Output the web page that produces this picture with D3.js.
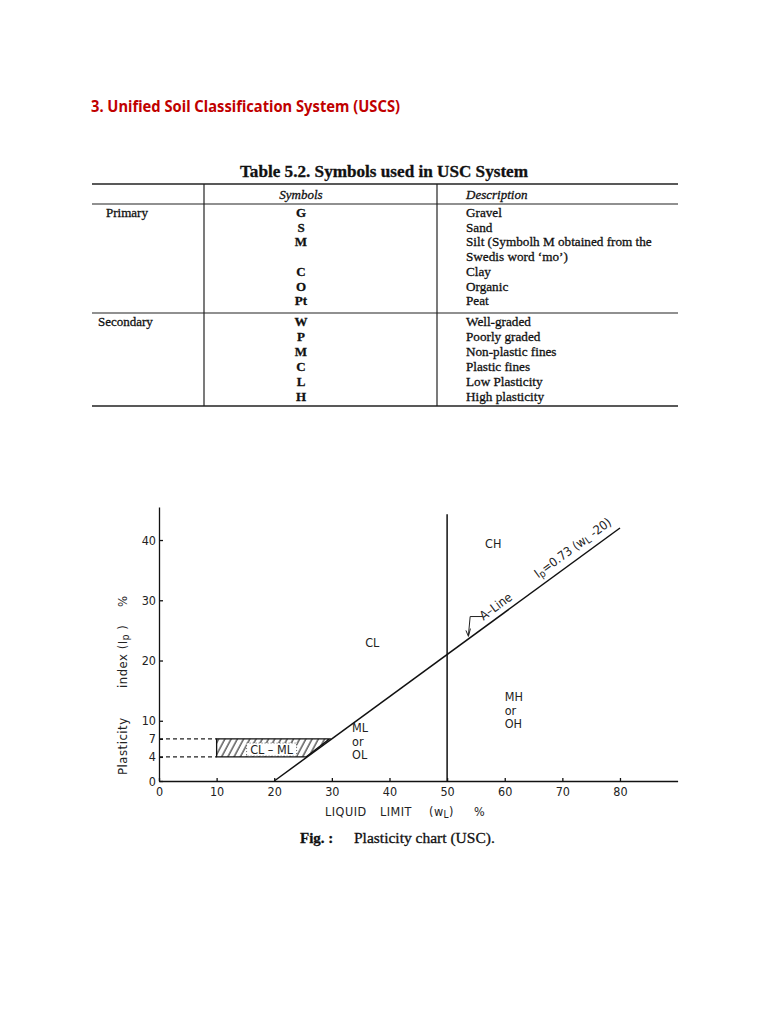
<!DOCTYPE html>
<html>
<head>
<meta charset="utf-8">
<script src="https://cdn.jsdelivr.net/npm/d3@7"></script>
<style>
  body { margin: 0; background: #fff; }
  svg { display: block; }
  .serif { font-family: "Liberation Serif", "DejaVu Serif", serif; fill: #111; stroke: #111; stroke-width: 0.3; }
  .chart text { font-family: "DejaVu Sans Condensed", "DejaVu Sans", sans-serif; font-stretch: condensed; fill: #222; }
  .axis path, .axis line { stroke: #111; stroke-width: 1.3; }
  .axis text { font-size: 12.5px; }
</style>
</head>
<body>
<svg width="768" height="1024"></svg>
<script>
// table content
const primarySymbols = ['G', 'S', 'M', '', 'C', 'O', 'Pt'];
const primaryDesc = ['Gravel', 'Sand', 'Silt (Symbolh M obtained from the', 'Swedis word \u2018mo\u2019)', 'Clay', 'Organic', 'Peat'];
const secondarySymbols = ['W', 'P', 'M', 'C', 'L', 'H'];
const secondaryDesc = ['Well-graded', 'Poorly graded', 'Non-plastic fines', 'Plastic fines', 'Low Plasticity', 'High plasticity'];

// plasticity chart
const xTicks = [0, 10, 20, 30, 40, 50, 60, 70, 80];
const yTicks = [0, 4, 7, 10, 20, 30, 40];
const aLine = [[20, 0], [80, 42]];      // Ip = 0.73 (wL - 20), as drawn
const uLineX = 50;                       // wL = 50 divider
const clml = [[10, 4], [10, 7], [29.6, 7], [25.5, 4]];
const zones = [
  { lines: ['CH'], wl: 58, ip: 38.7 },
  { lines: ['CL'], wl: 37, ip: 22.2 },
  { lines: ['ML', 'or', 'OL'], wl: 33.5, ip: 8.1, left: true },
  { lines: ['MH', 'or', 'OH'], wl: 60, ip: 13.2, left: true }
];

const svg = d3.select('svg');
svg.append('rect').attr('width', 768).attr('height', 1024).attr('fill', '#fff');

// heading
svg.append('text')
    .text('3. Unified Soil Classification System (USCS)')
    .attr('x', 91).attr('y', 112)
    .attr('font-family', 'Noto Sans, sans-serif')
    .attr('font-weight', 'bold').attr('font-size', 16)
    .attr('textLength', 309).attr('lengthAdjust', 'spacingAndGlyphs')
    .attr('fill', '#c00000');

// ---- table ----
const tbl = svg.append('g');
tbl.append('text')
    .attr('class', 'serif')
    .text('Table 5.2. Symbols used in USC System')
    .attr('x', 240).attr('y', 177)
    .attr('font-weight', 'bold').attr('font-size', 16)
    .attr('textLength', 288).attr('lengthAdjust', 'spacingAndGlyphs');

const hLines = [[184, 1.6], [204, 1.2], [313, 1.2], [406, 1.4]];
tbl.selectAll('line.h').data(hLines).enter().append('line')
    .attr('x1', 92).attr('x2', 678)
    .attr('y1', d => d[0]).attr('y2', d => d[0])
    .attr('stroke', '#222').attr('stroke-width', d => d[1]);
tbl.selectAll('line.v').data([204, 437]).enter().append('line')
    .attr('x1', d => d).attr('x2', d => d)
    .attr('y1', 184).attr('y2', 406)
    .attr('stroke', '#222').attr('stroke-width', 1.2);

tbl.append('text').attr('class', 'serif').text('Symbols')
    .attr('x', 301).attr('y', 199).attr('text-anchor', 'middle')
    .attr('font-style', 'italic').attr('font-size', 13);
tbl.append('text').attr('class', 'serif').text('Description')
    .attr('x', 466).attr('y', 199)
    .attr('font-style', 'italic').attr('font-size', 13);

function rows(symbols, desc, y0, step, head, headX) {
  tbl.append('text').attr('class', 'serif').text(head)
      .attr('x', headX).attr('y', y0).attr('font-size', 13);
  tbl.selectAll(null).data(symbols).enter().append('text')
      .attr('class', 'serif')
      .text(d => d)
      .attr('x', 301).attr('y', (d, i) => y0 + i * step)
      .attr('text-anchor', 'middle')
      .attr('font-weight', 'bold').attr('font-size', 13);
  tbl.selectAll(null).data(desc).enter().append('text')
      .attr('class', 'serif')
      .text(d => d)
      .attr('x', 466).attr('y', (d, i) => y0 + i * step)
      .attr('font-size', 13.2);
}
rows(primarySymbols, primaryDesc, 217, 14.7, 'Primary', 106);
rows(secondarySymbols, secondaryDesc, 326, 15, 'Secondary', 98);

// ---- plasticity chart ----
const chart = svg.append('g').attr('class', 'chart');
const x = d3.scaleLinear().domain([0, 90]).range([159, 677.6]);
const y = d3.scaleLinear().domain([0, 45.5]).range([781, 506.9]);

const defs = svg.append('defs');
defs.append('pattern')
    .attr('id', 'hatch')
    .attr('patternUnits', 'userSpaceOnUse')
    .attr('width', 5.5).attr('height', 10)
    .attr('patternTransform', 'rotate(28)')
  .append('line')
    .attr('x1', 1).attr('x2', 1).attr('y1', 0).attr('y2', 10)
    .attr('stroke', '#222').attr('stroke-width', 1.1);

// dashed guides at Ip = 4 and 7
chart.selectAll('line.guide').data([4, 7]).enter().append('line')
    .attr('x1', x(0)).attr('x2', x(10))
    .attr('y1', d => y(d)).attr('y2', d => y(d))
    .attr('stroke', '#222').attr('stroke-width', 1.1)
    .attr('stroke-dasharray', '4,3');

chart.append('path')
    .datum(clml)
    .attr('d', d3.line().x(d => x(d[0])).y(d => y(d[1])).curve(d3.curveLinearClosed))
    .attr('fill', 'url(#hatch)')
    .attr('stroke', '#111').attr('stroke-width', 1.3);

// CL-ML label box
const lbX = x(15.2), lbW = 50, lbY = y(6.3), lbH = 13;
chart.append('rect')
    .attr('x', lbX).attr('y', lbY).attr('width', lbW).attr('height', lbH)
    .attr('fill', '#fff').attr('stroke', '#444')
    .attr('stroke-width', 0.8).attr('stroke-dasharray', '1,2');
chart.append('text')
    .text('CL \u2013 ML')
    .attr('x', lbX + lbW / 2).attr('y', lbY + lbH - 2.3)
    .attr('text-anchor', 'middle').attr('font-size', 12.5);

// axes
chart.append('g')
    .attr('class', 'axis')
    .attr('transform', `translate(0,${y(0)})`)
    .call(d3.axisBottom(x).tickValues(xTicks).tickSizeInner(-3).tickSizeOuter(0).tickPadding(6));
chart.append('g')
    .attr('class', 'axis')
    .attr('transform', `translate(${x(0)},0)`)
    .call(d3.axisLeft(y).tickValues(yTicks).tickSizeInner(-4).tickSizeOuter(0).tickPadding(3));

// A-line and wL = 50 line
chart.append('path')
    .datum(aLine)
    .attr('d', d3.line().x(d => x(d[0])).y(d => y(d[1])))
    .attr('stroke', '#111').attr('stroke-width', 1.5).attr('fill', 'none');
chart.append('line')
    .attr('x1', x(uLineX)).attr('x2', x(uLineX))
    .attr('y1', y(0)).attr('y2', y(44.3))
    .attr('stroke', '#111').attr('stroke-width', 1.5);

// zone labels
zones.forEach(z => {
  const t = chart.append('text')
      .attr('x', x(z.wl)).attr('y', y(z.ip))
      .attr('text-anchor', z.left ? 'start' : 'middle')
      .attr('font-size', 12.5);
  z.lines.forEach((s, i) => {
    t.append('tspan').text(s).attr('x', x(z.wl)).attr('dy', i ? 13.5 : 0);
  });
});

// A-line annotation
const ang = -Math.atan2(y(0) - y(42), x(80) - x(20)) * 180 / Math.PI;
chart.append('path')
    .attr('d', `M${x(56.2)},${y(27.3)} L${x(54)},${y(27.3)} L${x(53.7)},${y(24.2)}`)
    .attr('stroke', '#222').attr('stroke-width', 1).attr('fill', 'none');
chart.append('path')
    .attr('d', `M${x(53.7) - 2.5},${y(25)} L${x(53.7)},${y(24)} L${x(53.7) + 2},${y(25.3)}`)
    .attr('stroke', '#222').attr('stroke-width', 1).attr('fill', 'none');
chart.append('text')
    .text('A\u2013Line')
    .attr('transform', `translate(${x(56.3)},${y(26.6)}) rotate(${ang})`)
    .attr('font-size', 12.5);
const eq = chart.append('text')
    .attr('transform', `translate(${x(65.8)},${y(33.6)}) rotate(${ang})`)
    .attr('font-size', 12.5);
eq.append('tspan').text('I');
eq.append('tspan').text('p').attr('font-size', 10).attr('baseline-shift', '-2');
eq.append('tspan').text('=0.73  (w');
eq.append('tspan').text('L').attr('font-size', 10).attr('baseline-shift', '-2');
eq.append('tspan').text(' -20)');

// axis titles
const xl = chart.append('text')
    .attr('x', 325).attr('y', 816).attr('font-size', 12.5)
    .attr('letter-spacing', 0.5);
xl.append('tspan').text('LIQUID');
xl.append('tspan').text('LIMIT').attr('x', 380);
xl.append('tspan').text('(w').attr('x', 429);
xl.append('tspan').text('L').attr('font-size', 10).attr('baseline-shift', '-2');
xl.append('tspan').text(')');
xl.append('tspan').text('%').attr('x', 474);

const yl = chart.append('text')
    .attr('transform', 'translate(127,775) rotate(-90)')
    .attr('font-size', 13).attr('letter-spacing', 0.5);
yl.append('tspan').text('Plasticity');
yl.append('tspan').text('index').attr('x', 87);
yl.append('tspan').text(' (I');
yl.append('tspan').text('p').attr('font-size', 10).attr('baseline-shift', '-2');
yl.append('tspan').text(' )');
yl.append('tspan').text('%').attr('x', 168);

// caption
svg.append('text').attr('class', 'serif')
    .text('Fig. :')
    .attr('x', 300).attr('y', 843)
    .attr('font-weight', 'bold').attr('font-size', 15);
svg.append('text').attr('class', 'serif')
    .text('Plasticity chart (USC).')
    .attr('x', 354).attr('y', 843)
    .attr('font-size', 15.5);
</script>
</body>
</html>
